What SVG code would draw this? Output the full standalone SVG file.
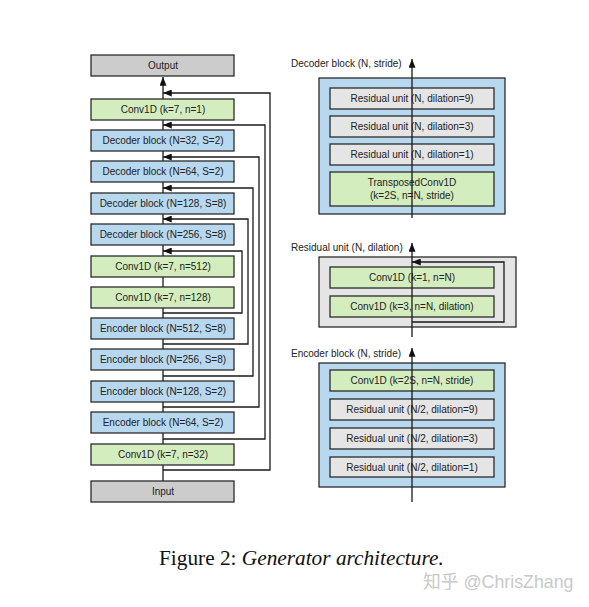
<svg xmlns="http://www.w3.org/2000/svg" width="589" height="607" viewBox="0 0 589 607">
<style>
  .box { stroke: #2b2b2b; stroke-width: 1.3; }
  .gray { fill: #cccccc; }
  .lgray { fill: #e5e5e5; }
  .green { fill: #d3edbf; }
  .blue { fill: #b8d8f0; }
  .lbl { font-family: "Liberation Sans", Arial, sans-serif; font-size: 10px; fill: #222; text-anchor: middle; dominant-baseline: central; }
  .title { font-family: "Liberation Sans", Arial, sans-serif; font-size: 10px; fill: #222; dominant-baseline: central; }
  .ln { fill: none; stroke: #1a1a1a; stroke-width: 1.3; }
</style>
<defs>
  <marker id="ah" viewBox="0 0 10 8" refX="10" refY="4" markerWidth="9" markerHeight="7" markerUnits="userSpaceOnUse" orient="auto">
    <path d="M0,0 L10,4 L0,8 Z" fill="#111"/>
  </marker>
</defs>
<rect width="589" height="607" fill="#ffffff"/>

<g id="connectors">
  <path class="ln" d="M163,481 V77" marker-end="url(#ah)"/>
  <path class="ln" d="M163,470 H270 V93 H163" marker-end="url(#ah)"/>
  <path class="ln" d="M163,439 H265 V125 H163" marker-end="url(#ah)"/>
  <path class="ln" d="M163,407 H259 V157 H163" marker-end="url(#ah)"/>
  <path class="ln" d="M163,376 H253 V188 H163" marker-end="url(#ah)"/>
  <path class="ln" d="M163,344 H248 V219 H163" marker-end="url(#ah)"/>
  <path class="ln" d="M163,313 H242 V251 H163" marker-end="url(#ah)"/>
</g>

<g id="output"><rect class="box gray" x="91" y="55" width="143" height="21"/><text class="lbl" x="163" y="65.5">Output</text></g>
<g id="conv_n1"><rect class="box green" x="91" y="99" width="143" height="21"/><text class="lbl" x="163" y="109.5">Conv1D (k=7, n=1)</text></g>
<g id="dec32"><rect class="box blue" x="91" y="130" width="143" height="21"/><text class="lbl" x="163" y="140.5">Decoder block (N=32, S=2)</text></g>
<g id="dec64"><rect class="box blue" x="91" y="161" width="143" height="21"/><text class="lbl" x="163" y="171.5">Decoder block (N=64, S=2)</text></g>
<g id="dec128"><rect class="box blue" x="91" y="193" width="143" height="21"/><text class="lbl" x="163" y="203.5">Decoder block (N=128, S=8)</text></g>
<g id="dec256"><rect class="box blue" x="91" y="224" width="143" height="21"/><text class="lbl" x="163" y="234.5">Decoder block (N=256, S=8)</text></g>
<g id="conv_n512"><rect class="box green" x="91" y="256" width="143" height="21"/><text class="lbl" x="163" y="266.5">Conv1D (k=7, n=512)</text></g>
<g id="conv_n128"><rect class="box green" x="91" y="287" width="143" height="21"/><text class="lbl" x="163" y="297.5">Conv1D (k=7, n=128)</text></g>
<g id="enc512"><rect class="box blue" x="91" y="318" width="143" height="21"/><text class="lbl" x="163" y="328.5">Encoder block (N=512, S=8)</text></g>
<g id="enc256"><rect class="box blue" x="91" y="349" width="143" height="21"/><text class="lbl" x="163" y="359.5">Encoder block (N=256, S=8)</text></g>
<g id="enc128"><rect class="box blue" x="91" y="381" width="143" height="21"/><text class="lbl" x="163" y="391.5">Encoder block (N=128, S=2)</text></g>
<g id="enc64"><rect class="box blue" x="91" y="412" width="143" height="21"/><text class="lbl" x="163" y="422.5">Encoder block (N=64, S=2)</text></g>
<g id="conv_n32"><rect class="box green" x="91" y="444" width="143" height="21"/><text class="lbl" x="163" y="454.5">Conv1D (k=7, n=32)</text></g>
<g id="input"><rect class="box gray" x="91" y="481" width="143" height="21"/><text class="lbl" x="163" y="491.5">Input</text></g>

<g id="decoder_block">
  <text class="title" x="291" y="63.5">Decoder block (N, stride)</text>
  <rect class="box blue" x="319" y="78" width="186" height="136"/>
  <rect class="box lgray" x="330" y="88" width="164" height="21"/>
  <text class="lbl" x="412" y="98.5">Residual unit (N, dilation=9)</text>
  <rect class="box lgray" x="330" y="116" width="164" height="21"/>
  <text class="lbl" x="412" y="126.5">Residual unit (N, dilation=3)</text>
  <rect class="box lgray" x="330" y="144" width="164" height="21"/>
  <text class="lbl" x="412" y="154.5">Residual unit (N, dilation=1)</text>
  <rect class="box green" x="330" y="172" width="164" height="34"/>
  <text class="lbl" x="412" y="182.5">TransposedConv1D</text>
  <text class="lbl" x="412" y="195.5">(k=2S, n=N, stride)</text>
  <path class="ln" d="M412,218 V59" marker-end="url(#ah)"/>
</g>

<g id="residual_unit">
  <text class="title" x="291" y="247.5">Residual unit (N, dilation)</text>
  <rect class="box lgray" x="319" y="257" width="197" height="70"/>
  <rect class="box green" x="330" y="267" width="164" height="21"/>
  <text class="lbl" x="412" y="277.5">Conv1D (k=1, n=N)</text>
  <rect class="box green" x="330" y="296" width="164" height="21"/>
  <text class="lbl" x="412" y="306.5">Conv1D (k=3, n=N, dilation)</text>
  <path class="ln" d="M412,337 V243" marker-end="url(#ah)"/>
  <path class="ln" d="M412,322 H504 V262 H412" marker-end="url(#ah)"/>
</g>

<g id="encoder_block">
  <text class="title" x="291" y="353">Encoder block (N, stride)</text>
  <rect class="box blue" x="319" y="363" width="186" height="124"/>
  <rect class="box green" x="330" y="370" width="164" height="21"/>
  <text class="lbl" x="412" y="380.5">Conv1D (k=2S, n=N, stride)</text>
  <rect class="box lgray" x="330" y="399" width="164" height="21"/>
  <text class="lbl" x="412" y="409.5">Residual unit (N/2, dilation=9)</text>
  <rect class="box lgray" x="330" y="428" width="164" height="21"/>
  <text class="lbl" x="412" y="438.5">Residual unit (N/2, dilation=3)</text>
  <rect class="box lgray" x="330" y="457" width="164" height="20"/>
  <text class="lbl" x="412" y="467">Residual unit (N/2, dilation=1)</text>
  <path class="ln" d="M412,502 V348" marker-end="url(#ah)"/>
</g>

<text x="159" y="565" font-family="'Liberation Serif', 'Times New Roman', serif" font-size="21.3" fill="#111">Figure 2: <tspan font-style="italic">Generator architecture.</tspan></text>
<text x="423" y="588" font-family="'Liberation Sans', 'Noto Sans CJK SC', sans-serif" font-size="17.8" fill="#c9c9c9">知乎 @ChrisZhang</text>
</svg>
